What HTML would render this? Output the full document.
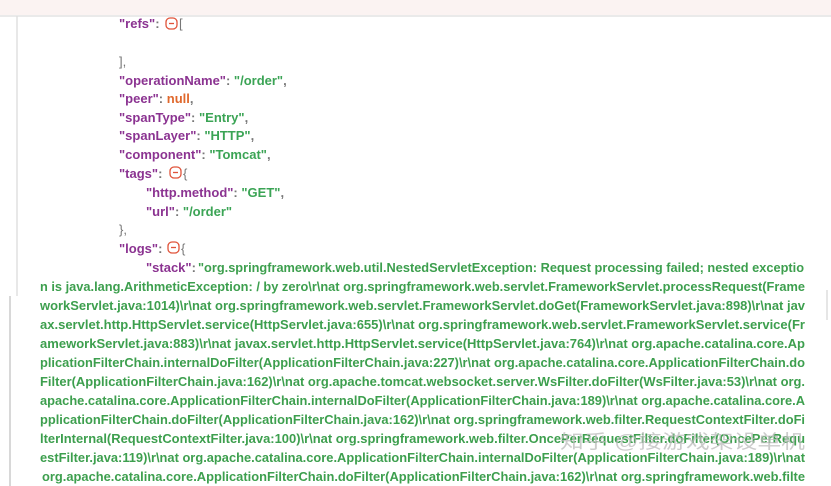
<!DOCTYPE html>
<html><head><meta charset="utf-8"><style>
html,body{margin:0;padding:0;background:#fff;width:831px;height:486px;overflow:hidden}
svg{display:block}
text{font-family:"Liberation Sans","Noto Sans CJK SC",sans-serif;font-weight:bold;font-size:13px}
.k{fill:#8b3391}.s{fill:#3ba455}.p{fill:#777}.n{fill:#e0682c}.g{fill:#3d9f4e}
</style></head><body>
<svg width="831" height="486" viewBox="0 0 831 486">
<rect x="0" y="0" width="831" height="15" fill="#fbf3f2"/>
<line x1="0" y1="16" x2="831" y2="16" stroke="#e4e4e4" stroke-width="1.5"/>
<line x1="17" y1="16" x2="17" y2="296" stroke="#e0e0e0" stroke-width="1.5"/>
<line x1="10" y1="296" x2="10" y2="486" stroke="#d8d8d8" stroke-width="2"/>
<line x1="827" y1="290" x2="827" y2="320" stroke="#ddd" stroke-width="1.5"/>
<g>
<text x="119" y="28"><tspan class="k">"refs"</tspan><tspan class="p">: </tspan></text>
<rect x="166" y="18" width="11" height="11" rx="4" fill="none" stroke="#e0533a" stroke-width="1.3"/><line x1="169" y1="23.5" x2="174" y2="23.5" stroke="#e0533a" stroke-width="1.3"/>
<text x="179" y="28" class="p" style="font-weight:normal">[</text>
<text x="119" y="66" class="p" style="font-weight:normal">],</text>
<text x="119" y="85"><tspan class="k">"operationName"</tspan><tspan class="p">: </tspan><tspan class="s">"/order"</tspan><tspan class="p">,</tspan></text>
<text x="119" y="103"><tspan class="k">"peer"</tspan><tspan class="p">: </tspan><tspan class="n">null</tspan><tspan class="p">,</tspan></text>
<text x="119" y="122"><tspan class="k">"spanType"</tspan><tspan class="p">: </tspan><tspan class="s">"Entry"</tspan><tspan class="p">,</tspan></text>
<text x="119" y="140"><tspan class="k">"spanLayer"</tspan><tspan class="p">: </tspan><tspan class="s">"HTTP"</tspan><tspan class="p">,</tspan></text>
<text x="119" y="159"><tspan class="k">"component"</tspan><tspan class="p">: </tspan><tspan class="s">"Tomcat"</tspan><tspan class="p">,</tspan></text>
<text x="119" y="178"><tspan class="k">"tags"</tspan><tspan class="p">: </tspan></text>
<rect x="170" y="167" width="11" height="11" rx="4" fill="none" stroke="#e0533a" stroke-width="1.3"/><line x1="173" y1="172.5" x2="178" y2="172.5" stroke="#e0533a" stroke-width="1.3"/>
<text x="183" y="178" class="p" style="font-weight:normal">{</text>
<text x="146" y="197"><tspan class="k">"http.method"</tspan><tspan class="p">: </tspan><tspan class="s">"GET"</tspan><tspan class="p">,</tspan></text>
<text x="146" y="216"><tspan class="k">"url"</tspan><tspan class="p">: </tspan><tspan class="s">"/order"</tspan></text>
<text x="119" y="234" class="p" style="font-weight:normal">},</text>
<text x="119" y="253"><tspan class="k">"logs"</tspan><tspan class="p">: </tspan></text>
<rect x="168" y="242" width="11" height="11" rx="4" fill="none" stroke="#e0533a" stroke-width="1.3"/><line x1="171" y1="247.5" x2="176" y2="247.5" stroke="#e0533a" stroke-width="1.3"/>
<text x="181" y="253" class="p" style="font-weight:normal">{</text>
<text x="146" y="272"><tspan class="k">"stack"</tspan><tspan class="p">: </tspan></text>
<text x="198" y="272" class="g" textLength="606" lengthAdjust="spacingAndGlyphs">"org.springframework.web.util.NestedServletException: Request processing failed; nested exceptio</text>
<text x="40" y="291" class="g" textLength="765" lengthAdjust="spacingAndGlyphs">n is java.lang.ArithmeticException: / by zero\r\nat org.springframework.web.servlet.FrameworkServlet.processRequest(Frame</text>
<text x="40" y="310" class="g" textLength="765" lengthAdjust="spacingAndGlyphs">workServlet.java:1014)\r\nat org.springframework.web.servlet.FrameworkServlet.doGet(FrameworkServlet.java:898)\r\nat jav</text>
<text x="40" y="329" class="g" textLength="765" lengthAdjust="spacingAndGlyphs">ax.servlet.http.HttpServlet.service(HttpServlet.java:655)\r\nat org.springframework.web.servlet.FrameworkServlet.service(Fr</text>
<text x="40" y="348" class="g" textLength="765" lengthAdjust="spacingAndGlyphs">ameworkServlet.java:883)\r\nat javax.servlet.http.HttpServlet.service(HttpServlet.java:764)\r\nat org.apache.catalina.core.Ap</text>
<text x="40" y="367" class="g" textLength="765" lengthAdjust="spacingAndGlyphs">plicationFilterChain.internalDoFilter(ApplicationFilterChain.java:227)\r\nat org.apache.catalina.core.ApplicationFilterChain.do</text>
<text x="40" y="386" class="g" textLength="765" lengthAdjust="spacingAndGlyphs">Filter(ApplicationFilterChain.java:162)\r\nat org.apache.tomcat.websocket.server.WsFilter.doFilter(WsFilter.java:53)\r\nat org.</text>
<text x="40" y="405" class="g" textLength="765" lengthAdjust="spacingAndGlyphs">apache.catalina.core.ApplicationFilterChain.internalDoFilter(ApplicationFilterChain.java:189)\r\nat org.apache.catalina.core.A</text>
<text x="40" y="424" class="g" textLength="765" lengthAdjust="spacingAndGlyphs">pplicationFilterChain.doFilter(ApplicationFilterChain.java:162)\r\nat org.springframework.web.filter.RequestContextFilter.doFi</text>
<text x="40" y="443" class="g" textLength="765" lengthAdjust="spacingAndGlyphs">lterInternal(RequestContextFilter.java:100)\r\nat org.springframework.web.filter.OncePerRequestFilter.doFilter(OncePerRequ</text>
<text x="40" y="462" class="g" textLength="765" lengthAdjust="spacingAndGlyphs">estFilter.java:119)\r\nat org.apache.catalina.core.ApplicationFilterChain.internalDoFilter(ApplicationFilterChain.java:189)\r\nat</text>
<text x="42" y="481" class="g" textLength="763" lengthAdjust="spacingAndGlyphs">org.apache.catalina.core.ApplicationFilterChain.doFilter(ApplicationFilterChain.java:162)\r\nat org.springframework.web.filte</text>
<text x="560" y="448" style="font-size:19px;font-weight:normal;fill:#bbb;opacity:0.75" textLength="245" lengthAdjust="spacingAndGlyphs">知乎 @接游戏架设单机</text>
</g>
</svg>
</body></html>
